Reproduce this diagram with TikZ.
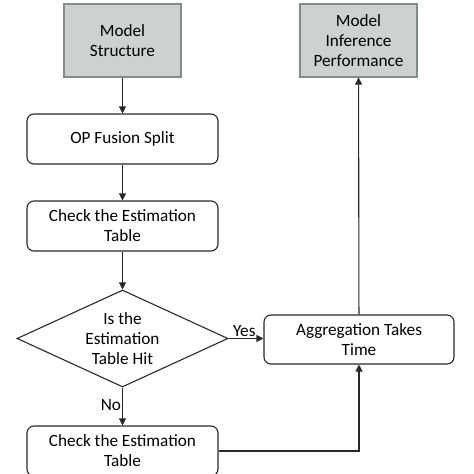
\documentclass[tikz,border=0pt]{standalone}
\usepackage{fontspec}
\setmainfont{Carlito}
\usetikzlibrary{shapes.geometric,arrows.meta}
\definecolor{boxgray}{RGB}{205,209,207}
\definecolor{boxedge}{RGB}{130,140,136}
\definecolor{linec}{RGB}{40,40,40}
\tikzset{
  every node/.style={font=\fontsize{17.2pt}{20pt}\selectfont, text=black, align=center},
  graybox/.style={draw=boxedge, fill=boxgray, line width=1.1pt, minimum width=117pt, minimum height=73pt, inner sep=0pt},
  roundbox/.style={draw=linec, rounded corners=7pt, line width=1.1pt, minimum width=191pt, minimum height=50pt, inner sep=0pt},
  decision/.style={draw=linec, diamond, line width=1.1pt, minimum width=211pt, minimum height=97pt, inner sep=0pt, aspect=2.2},
  conn/.style={draw=linec, line width=1.1pt, -{Triangle[length=7pt,width=7pt]}},
  lbl/.style={font=\fontsize{17.2pt}{20pt}\selectfont, inner sep=1pt}
}
\begin{document}
\begin{tikzpicture}[x=1pt,y=-1pt]
\useasboundingbox (0,0) rectangle (474,474);
\node[graybox] (ms) at (122.5,40.5) {Model\\Structure};
\node[roundbox] (op) at (122.5,139) {OP Fusion Split};
\node[roundbox] (ch1) at (122.5,226) {Check the Estimation\\Table};
\node[decision] (dia) at (122.5,338.5) {Is the\\Estimation\\Table Hit};
\node[roundbox] (ch2) at (122.5,451) {Check the Estimation\\Table};
\node[roundbox, minimum width=190pt, minimum height=49pt] (agg) at (359,339.5) {Aggregation Takes\\Time};
\node[graybox] (mip) at (358.5,40.5) {Model\\Inference\\Performance};
\coordinate (corner) at (agg.south |- ch2.east);
\draw[conn] (ms) -- (op);
\draw[conn] (op) -- (ch1);
\draw[conn] (ch1) -- (dia);
\draw[conn] (dia) -- node[lbl, left, pos=0.45] {No} (ch2);
\draw[conn] (dia.east) -- node[lbl, above, pos=0.45] {Yes} (agg.west |- dia.east);
\draw[conn] (ch2.east) -- (corner) -- (agg.south);
\draw[conn] (agg) -- (mip);
\end{tikzpicture}
\end{document}
